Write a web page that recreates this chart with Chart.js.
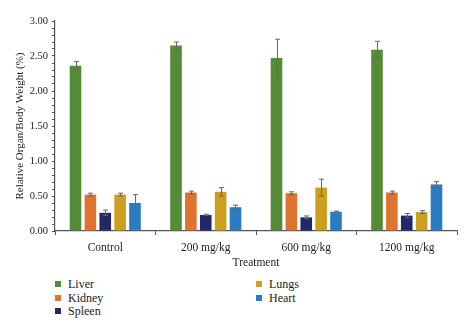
<!DOCTYPE html>
<html>
<head>
<meta charset="utf-8">
<script src="https://cdn.jsdelivr.net/npm/chart.js@4"></script>
<style>
  html, body { margin: 0; padding: 0; background: #fff; }
  #wrap { position: relative; width: 474px; height: 334px; font-family: "Liberation Serif", serif; }
  #chart { position: absolute; left: 0; top: 0; }
  .leg { position: absolute; font-size: 12px; color: #222; line-height: 13px; }
  .leg i { position: absolute; left: -13px; top: 3px; width: 6px; height: 6px; }
</style>
</head>
<body>
<div id="wrap">
  <canvas id="chart" width="474" height="274"></canvas>
  <div id="legend"></div>
</div>
<script>
"use strict";

const treatments = ["Control", "200 mg/kg", "600 mg/kg", "1200 mg/kg"];
const organs = ["Liver", "Kidney", "Spleen", "Lungs", "Heart"];
const colors = ["#548b36", "#dd7430", "#22276a", "#cc9f1f", "#2b7bc3"];

const liver = [2.36, 2.65, 2.47, 2.59];
const kidney = [0.52, 0.55, 0.54, 0.55];
const spleen = [0.26, 0.23, 0.195, 0.22];
const lungs = [0.52, 0.56, 0.62, 0.27];
const heart = [0.40, 0.34, 0.275, 0.665];

const liverErr = [0.06, 0.05, 0.27, 0.12];
const kidneyErr = [0.02, 0.02, 0.02, 0.02];
const spleenErr = [0.04, 0.01, 0.02, 0.03];
const lungsErr = [0.02, 0.06, 0.12, 0.02];
const heartErr = [0.12, 0.03, 0.01, 0.04];

const values = [liver, kidney, spleen, lungs, heart];
const errors = [liverErr, kidneyErr, spleenErr, lungsErr, heartErr];

const FONT = "'Liberation Serif', serif";
const INK = "#222";

const errorBars = {
  id: "errorBars",
  afterDatasetsDraw(chart) {
    const ctx = chart.ctx, y = chart.scales.y;
    ctx.save();
    ctx.strokeStyle = "#666";
    ctx.lineWidth = 1;
    chart.data.datasets.forEach((ds, i) => {
      const meta = chart.getDatasetMeta(i);
      meta.data.forEach((bar, j) => {
        const v = ds.data[j], e = errors[i][j];
        const yTop = y.getPixelForValue(v + e), yBot = y.getPixelForValue(v - e);
        const x = Math.round(bar.x) + 0.5;
        ctx.beginPath();
        ctx.moveTo(x, yTop); ctx.lineTo(x, yBot);
        ctx.moveTo(x - 2.5, yTop); ctx.lineTo(x + 2.5, yTop);
        ctx.moveTo(x - 2.5, yBot); ctx.lineTo(x + 2.5, yBot);
        ctx.stroke();
      });
    });
    ctx.restore();
  },
};

new Chart(document.getElementById("chart"), {
  type: "bar",
  data: {
    labels: treatments,
    datasets: organs.map((o, i) => ({
      label: o, data: values[i], backgroundColor: colors[i],
      categoryPercentage: 0.74, barPercentage: 0.78,
    })),
  },
  options: {
    responsive: false,
    animation: false,
    layout: { padding: { left: 0, right: 17, top: 21, bottom: 0 } },
    plugins: { legend: { display: false }, tooltip: { enabled: false } },
    scales: {
      x: {
        grid: { display: true, drawOnChartArea: false, offset: true, tickLength: 4, color: "#555" },
        border: { color: "#555", width: 1.2 },
        ticks: { color: INK, font: { family: FONT, size: 11.5 }, padding: 6 },
        title: { display: true, text: "Treatment", color: INK, font: { family: FONT, size: 11.5 }, padding: { top: 0 } },
        afterFit: (s) => { s.height = 43; },
      },
      y: {
        min: 0, max: 3,
        grid: { display: true, drawOnChartArea: false, tickLength: 3, color: "#555" },
        border: { color: "#555", width: 1.2 },
        ticks: {
          stepSize: 0.1, autoSkip: false, color: INK, padding: 4,
          font: { family: FONT, size: 10.5 },
          callback: (v) => Math.abs(v * 2 - Math.round(v * 2)) < 1e-6 ? v.toFixed(2) : "",
        },
        title: { display: true, text: "Relative Organ/Body Weight (%)", color: INK, font: { family: FONT, size: 11 }, padding: { top: 14, bottom: 2 } },
        afterFit: (s) => { s.width = 55; },
      },
    },
  },
  plugins: [errorBars],
});

// legend: two columns, filled top-down
const legend = document.getElementById("legend");
const slots = [[68, 278], [68, 292], [68, 305], [269, 278], [269, 292]];
organs.forEach((o, i) => {
  const d = document.createElement("div");
  d.className = "leg";
  d.style.left = slots[i][0] + "px";
  d.style.top = slots[i][1] + "px";
  d.innerHTML = "<i style='background:" + colors[i] + "'></i>" + o;
  legend.appendChild(d);
});
</script>
</body>
</html>
